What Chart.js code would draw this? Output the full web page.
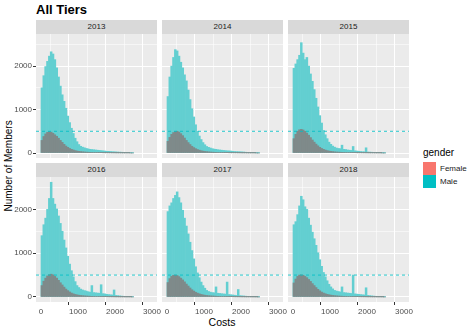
<!DOCTYPE html>
<html>
<head>
<meta charset="utf-8">
<script src="https://cdn.jsdelivr.net/npm/chart.js@4.4.0/dist/chart.umd.min.js"></script>
<style>
  body { margin: 0; background: #ffffff; width: 474px; height: 331px; position: relative; overflow: hidden;
         font-family: "Liberation Sans", Arial, sans-serif; }
  canvas { position: absolute; }
  .strip { position: absolute; height: 14px; background: #D9D9D9; color: #1A1A1A; font-size: 8px;
           line-height: 14px; text-align: center; }
  .txt { position: absolute; white-space: nowrap; }
  .key { position: absolute; width: 13px; height: 13px; }
</style>
</head>
<body>
<div class="txt" style="left:36px; top:2px; font-size:13px; font-weight:bold; color:#000;">All Tiers</div>
<div class="txt" style="left:-37px; top:161px; width:90px; text-align:center; font-size:10px; color:#000; transform:rotate(-90deg);">Number of Members</div>
<div class="txt" style="left:192px; top:316px; width:60px; text-align:center; font-size:10.5px; color:#000;">Costs</div>
<div class="txt" style="left:423px; top:147px; font-size:10px; color:#000;">gender</div>
<div class="key" style="left:423px; top:162px; background:#F8766D;"></div>
<div class="key" style="left:423px; top:175px; background:#00BFC4;"></div>
<div class="txt" style="left:440px; top:164px; font-size:8px; color:#1A1A1A;">Female</div>
<div class="txt" style="left:440px; top:177px; font-size:8px; color:#1A1A1A;">Male</div>

<script>
var years = ['2013', '2014', '2015', '2016', '2017', '2018'];

// histogram bin centres (Costs), 50 wide
var costBins = [25, 75, 125, 175, 225, 275, 325, 375, 425, 475,
                525, 575, 625, 675, 725, 775, 825, 875, 925, 975,
                1025, 1075, 1125, 1175, 1225, 1275, 1325, 1375, 1425, 1475,
                1525, 1575, 1625, 1675, 1725, 1775, 1825, 1875, 1925, 1975,
                2025, 2075, 2125, 2175, 2225, 2275, 2325, 2375, 2425, 2475];

var male2013 = [1500, 1780, 1990, 2110, 2230, 2330, 2280, 2150, 1960, 1750,
                1540, 1340, 1190, 1030, 850, 700, 570, 450, 340, 260,
                195, 155, 135, 120, 105, 95, 85, 80, 75, 70,
                65, 60, 55, 50, 45, 40, 38, 35, 30, 28,
                25, 22, 20, 18, 15, 12, 10, 8, 6, 4];
var female2013 = [290, 380, 440, 475, 490, 480, 455, 420, 385, 340,
                  290, 245, 200, 160, 130, 105, 85, 70, 55, 45,
                  38, 32, 28, 24, 20, 18, 16, 14, 12, 10,
                  9, 8, 7, 6, 5, 5, 4, 4, 3, 3,
                  2, 2, 2, 1, 1, 1, 1, 1, 0, 0];

var male2014 = [1300, 1750, 2000, 2200, 2380, 2350, 2230, 2090, 1960, 1800,
                1660, 1450, 1230, 1020, 830, 650, 500, 390, 310, 240,
                190, 150, 130, 115, 100, 90, 85, 75, 70, 65,
                60, 55, 50, 48, 45, 40, 35, 32, 30, 28,
                25, 22, 18, 15, 12, 10, 8, 6, 5, 3];
var female2014 = [270, 360, 430, 470, 495, 500, 480, 445, 400, 345,
                  290, 240, 195, 155, 125, 100, 80, 65, 52, 43,
                  36, 30, 26, 22, 19, 17, 15, 13, 11, 10,
                  9, 8, 7, 6, 5, 5, 4, 4, 3, 3,
                  2, 2, 2, 1, 1, 1, 1, 1, 0, 0];

var male2015 = [1950, 2050, 2150, 2250, 2540, 2300, 2150, 2200, 2000, 1820,
                1650, 1460, 1260, 1060, 860, 690, 520, 420, 330, 250,
                200, 160, 135, 115, 105, 100, 180, 85, 80, 70,
                65, 60, 150, 50, 45, 40, 35, 30, 28, 120,
                22, 20, 18, 15, 12, 10, 8, 6, 5, 3];
var female2015 = [330, 430, 500, 535, 545, 530, 500, 460, 410, 355,
                  300, 250, 205, 165, 130, 105, 85, 68, 55, 45,
                  38, 32, 27, 23, 20, 18, 16, 14, 12, 11,
                  10, 9, 8, 7, 6, 5, 5, 4, 4, 3,
                  3, 2, 2, 2, 1, 1, 1, 1, 0, 0];

var male2016 = [1400, 1650, 1800, 2000, 2250, 2620, 2250, 2120, 2010, 1850,
                1680, 1500, 1300, 1120, 930, 750, 600, 460, 350, 260,
                215, 180, 160, 145, 135, 120, 110, 260, 100, 95,
                90, 85, 280, 75, 70, 60, 55, 50, 45, 160,
                35, 30, 25, 20, 16, 12, 10, 8, 6, 4];
var female2016 = [260, 360, 430, 480, 510, 520, 505, 470, 430, 380,
                  325, 275, 225, 180, 145, 115, 90, 72, 58, 48,
                  40, 34, 29, 25, 22, 19, 17, 15, 13, 12,
                  11, 10, 9, 8, 7, 6, 5, 5, 4, 4,
                  3, 3, 2, 2, 2, 1, 1, 1, 1, 0];

var male2017 = [1950, 2080, 2150, 2250, 2320, 2400, 2270, 2150, 1980, 1800,
                1620, 1440, 1250, 1060, 870, 690, 550, 440, 340, 260,
                200, 150, 125, 110, 100, 95, 230, 85, 80, 75,
                70, 65, 340, 55, 50, 45, 40, 35, 170, 30,
                25, 22, 18, 15, 12, 10, 8, 6, 5, 3];
var female2017 = [330, 420, 470, 495, 500, 490, 465, 430, 390, 345,
                  295, 250, 205, 165, 135, 108, 88, 72, 58, 48,
                  40, 34, 29, 25, 22, 19, 17, 15, 13, 12,
                  11, 10, 9, 8, 7, 6, 5, 5, 4, 4,
                  3, 3, 2, 2, 2, 1, 1, 1, 1, 0];

var male2018 = [1650, 1720, 1880, 2080, 2300, 2220, 2060, 2000, 1800, 1640,
                1480, 1330, 1180, 1010, 850, 700, 560, 460, 370, 290,
                230, 185, 150, 135, 125, 115, 230, 100, 95, 90,
                85, 80, 500, 70, 65, 60, 55, 50, 45, 210,
                35, 30, 25, 20, 16, 12, 10, 8, 5, 3];
var female2018 = [320, 410, 470, 500, 505, 495, 470, 440, 400, 355,
                  305, 260, 215, 175, 140, 112, 90, 74, 60, 50,
                  42, 35, 30, 26, 22, 19, 17, 15, 13, 12,
                  11, 10, 9, 8, 7, 6, 5, 5, 4, 4,
                  3, 3, 2, 2, 2, 1, 1, 1, 1, 0];

var maleByYear = [male2013, male2014, male2015, male2016, male2017, male2018];
var femaleByYear = [female2013, female2014, female2015, female2016, female2017, female2018];

var xTicks = [0, 500, 1000, 1500, 2000, 2500, 3000];
var xTickLabels = ['0', '', '1000', '', '2000', '', '3000'];
var yTicks = [0, 500, 1000, 1500, 2000, 2500];
var yTickLabels = ['0', '', '1000', '', '2000', ''];
var refLine = 500;   // dashed reference line
var xMin = -135, xMax = 3135;
var yMin = -115, yMax = 2740;

// panel placement (ggplot facet grid)
var panelLeft = [36, 162, 288];
var panelTop = [34, 177];
var panelW = 121;
var panelH = [124, 125];

var maleFill = '#63CFD1';
var femaleFill = '#7F8A8A';

var panelBg = {
    id: 'panelBg',
    beforeDraw: function (chart) {
        var a = chart.chartArea, ctx = chart.ctx;
        ctx.save();
        ctx.fillStyle = '#EBEBEB';
        ctx.fillRect(a.left, a.top, a.right - a.left, a.bottom - a.top);
        ctx.restore();
    }
};

function toXY(values) {
    return values.map(function (v, k) { return { x: costBins[k], y: v }; });
}

function gridColor(ctx) {
    return ctx.tick && ctx.tick.value % 1000 === 0 ? '#FFFFFF' : 'rgba(255,255,255,0.55)';
}
function tickColor(ctx) {
    return ctx.tick && ctx.tick.value % 1000 === 0 ? '#333333' : 'rgba(0,0,0,0)';
}

years.forEach(function (year, i) {
    var col = i % 3, row = Math.floor(i / 3);
    var isLeft = col === 0, isBottom = row === 1;
    var yW = isLeft ? 36 : 0;
    var xH = isBottom ? 16 : 0;
    var padR = isBottom ? 10 : 0;

    var strip = document.createElement('div');
    strip.className = 'strip';
    strip.style.left = panelLeft[col] + 'px';
    strip.style.top = (panelTop[row] - 14) + 'px';
    strip.style.width = panelW + 'px';
    strip.textContent = year;
    document.body.appendChild(strip);

    var canvas = document.createElement('canvas');
    canvas.width = panelW + yW + padR;
    canvas.height = panelH[row] + xH;
    canvas.style.left = (panelLeft[col] - yW) + 'px';
    canvas.style.top = panelTop[row] + 'px';
    document.body.appendChild(canvas);

    new Chart(canvas, {
        type: 'bar',
        data: {
            datasets: [
                {
                    type: 'line',
                    data: [{ x: xMin, y: refLine }, { x: xMax, y: refLine }],
                    borderColor: 'rgba(0,191,196,0.85)',
                    borderWidth: 1,
                    borderDash: [3, 3],
                    pointRadius: 0,
                    order: 0
                },
                {
                    label: 'Female',
                    data: toXY(femaleByYear[i]),
                    backgroundColor: femaleFill,
                    grouped: false,
                    barPercentage: 1,
                    categoryPercentage: 1,
                    order: 1
                },
                {
                    label: 'Male',
                    data: toXY(maleByYear[i]),
                    backgroundColor: maleFill,
                    grouped: false,
                    barPercentage: 1,
                    categoryPercentage: 1,
                    order: 2
                }
            ]
        },
        options: {
            responsive: false,
            animation: false,
            layout: { padding: { left: 0, right: padR, top: 0, bottom: 0 } },
            plugins: { legend: { display: false }, tooltip: { enabled: false } },
            scales: {
                x: {
                    type: 'linear',
                    min: xMin,
                    max: xMax,
                    offset: false,
                    border: { display: false },
                    grid: { color: gridColor, lineWidth: 1, drawTicks: isBottom, tickLength: 3, tickColor: tickColor, tickWidth: 1 },
                    ticks: {
                        display: isBottom,
                        padding: 2,
                        maxRotation: 0,
                        autoSkip: false,
                        color: '#4D4D4D',
                        font: { family: 'Liberation Sans', size: 8 },
                        callback: function (v, k) { return xTickLabels[k]; }
                    },
                    afterBuildTicks: function (axis) { axis.ticks = xTicks.map(function (v) { return { value: v }; }); },
                    afterFit: function (axis) { axis.height = xH; axis.paddingLeft = 0; axis.paddingRight = 0; }
                },
                y: {
                    min: yMin,
                    max: yMax,
                    border: { display: false },
                    grid: { color: gridColor, lineWidth: 1, drawTicks: isLeft, tickLength: 3, tickColor: tickColor, tickWidth: 1 },
                    ticks: {
                        display: isLeft,
                        padding: 1,
                        autoSkip: false,
                        color: '#4D4D4D',
                        font: { family: 'Liberation Sans', size: 8 },
                        callback: function (v, k) { return yTickLabels[k]; }
                    },
                    afterBuildTicks: function (axis) { axis.ticks = yTicks.map(function (v) { return { value: v }; }); },
                    afterFit: function (axis) { axis.width = yW; axis.paddingTop = 0; axis.paddingBottom = 0; }
                }
            }
        },
        plugins: [panelBg]
    });
});
</script>
</body>
</html>
